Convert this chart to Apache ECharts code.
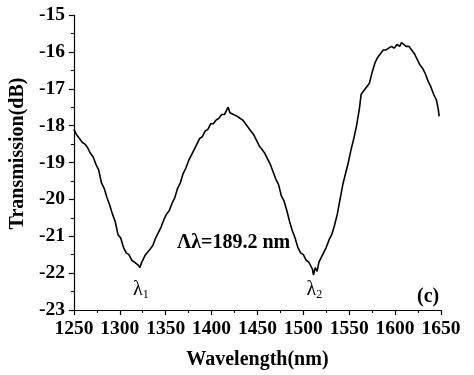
<!DOCTYPE html>
<html>
<head>
<meta charset="utf-8">
<script src="https://cdn.jsdelivr.net/npm/echarts@6/dist/echarts.min.js"></script>
<style>html,body{margin:0;padding:0;background:#fff}#c{width:474px;height:375px}</style>
</head>
<body>
<div id="c"></div>
<script>
const wavelength = [1250,1253,1256,1259,1262,1265,1268,1271,1274,1277,1280,1283,1286,1289,1292,1295,1298,1301,1304,1307,1310,1313,1316,1318,1320,1322,1324,1326,1328,1330,1333,1336,1339,1342,1345,1348,1351,1354,1357,1360,1363,1366,1369,1372,1375,1378,1381,1384,1387,1390,1393,1396,1399,1402,1405,1408,1411,1414,1416,1418,1420,1422,1424,1426,1428,1431,1434,1437,1440,1443,1446,1449,1452,1455,1458,1461,1464,1467,1470,1473,1476,1479,1482,1485,1488,1491,1494,1497,1500,1503,1506,1508,1510,1511,1513,1515,1517,1519,1522,1525,1528,1531,1534,1537,1540,1543,1546,1549,1552,1555,1558,1561,1563,1566,1569,1572,1575,1578,1581,1584,1587,1590,1593,1596,1599,1602,1605,1607,1609,1612,1615,1618,1621,1624,1627,1630,1633,1636,1639,1642,1645,1647,1648];
const transmission = [-18.1,-18.25,-18.35,-18.45,-18.5,-18.6,-18.75,-18.85,-19.05,-19.2,-19.55,-19.7,-19.95,-20.15,-20.4,-20.6,-20.95,-21.05,-21.3,-21.45,-21.5,-21.65,-21.7,-21.75,-21.78,-21.85,-21.7,-21.75,-21.5,-21.55,-21.35,-21.25,-21.05,-20.9,-20.75,-20.55,-20.4,-20.3,-20.1,-19.95,-19.7,-19.55,-19.3,-19.15,-18.95,-18.8,-18.65,-18.5,-18.35,-18.3,-18.15,-18.1,-17.95,-17.95,-17.85,-17.8,-17.7,-17.7,-17.6,-17.5,-17.65,-17.6,-17.7,-17.65,-17.75,-17.8,-17.85,-17.95,-18.05,-18.15,-18.25,-18.4,-18.55,-18.65,-18.75,-18.9,-19.05,-19.25,-19.45,-19.6,-19.9,-20.05,-20.3,-20.6,-20.85,-21.05,-21.3,-21.45,-21.5,-21.65,-21.7,-21.8,-21.9,-22.05,-21.85,-21.95,-21.7,-21.65,-21.45,-21.3,-21.1,-20.95,-20.7,-20.4,-20.0,-19.6,-19.3,-19.0,-18.65,-18.35,-18.0,-17.55,-17.15,-17.05,-16.95,-16.85,-16.55,-16.3,-16.15,-16.05,-15.95,-15.95,-15.9,-15.85,-15.9,-15.8,-15.85,-15.75,-15.8,-15.85,-15.85,-15.95,-16.05,-16.2,-16.35,-16.45,-16.6,-16.8,-16.95,-17.15,-17.3,-17.55,-17.75];
const xTicks = {min:1250, max:1650, step:50};
const yTicks = {min:-23, max:-15, step:1};
const annotations = [
  {x:1323, y:-22.46, text:'{a|λ}{s|1}'},
  {x:1512, y:-22.46, text:'{a|λ}{s|2}'},
  {x:1424, y:-21.18, text:'{b|Λλ=189.2 nm}'},
  {x:1636, y:-22.65, text:'{b|(c)}'}
];
const font = 'Liberation Serif';
const chart = echarts.init(document.getElementById('c'), null, {renderer:'canvas'});
const axisCommon = {
  axisLine:{show:true, lineStyle:{color:'#000', width:1.2}},
  axisTick:{show:true, inside:false, length:5, lineStyle:{color:'#000', width:1.2}},
  minorTick:{show:true, splitNumber:2, length:3, lineStyle:{color:'#000', width:1}},
  splitLine:{show:false},
  axisLabel:{color:'#000', fontFamily:font, fontWeight:'bold', fontSize:19.5},
  nameTextStyle:{color:'#000', fontFamily:font, fontWeight:'bold', fontSize:20}
};
chart.setOption({
  animation:false,
  backgroundColor:'#fff',
  grid:{left:73, right:33, top:15, bottom:65},
  xAxis:Object.assign({}, axisCommon, {
    type:'value', min:xTicks.min, max:xTicks.max, interval:xTicks.step,
    name:'Wavelength(nm)', nameLocation:'middle', nameGap:40,
    axisLabel:Object.assign({}, axisCommon.axisLabel, {margin:9, formatter:v=>String(v)})
  }),
  yAxis:Object.assign({}, axisCommon, {
    type:'value', min:yTicks.min, max:yTicks.max, interval:yTicks.step,
    name:'Transmission(dB)', nameLocation:'middle', nameGap:45,
    nameTextStyle:Object.assign({}, axisCommon.nameTextStyle, {padding:[0,0,0,18]}),
    axisLabel:Object.assign({}, axisCommon.axisLabel, {margin:9, formatter:v=>String(v)})
  }),
  series:[{
    type:'line',
    data:wavelength.map((w,i)=>[w, transmission[i]]),
    showSymbol:false, symbol:'none',
    lineStyle:{color:'#000', width:1.6},
    markPoint:{
      symbol:'circle', symbolSize:0,
      data:annotations.map(a=>({coord:[a.x,a.y], value:a.text})),
      label:{
        show:true, position:'inside', formatter:p=>p.value,
        rich:{
          a:{fontFamily:font, fontSize:20, color:'#000'},
          s:{fontFamily:font, fontSize:12, color:'#000', verticalAlign:'bottom', padding:[10,0,0,0]},
          b:{fontFamily:font, fontSize:20, fontWeight:'bold', color:'#000'}
        }
      }
    }
  }]
});
</script>
</body>
</html>
